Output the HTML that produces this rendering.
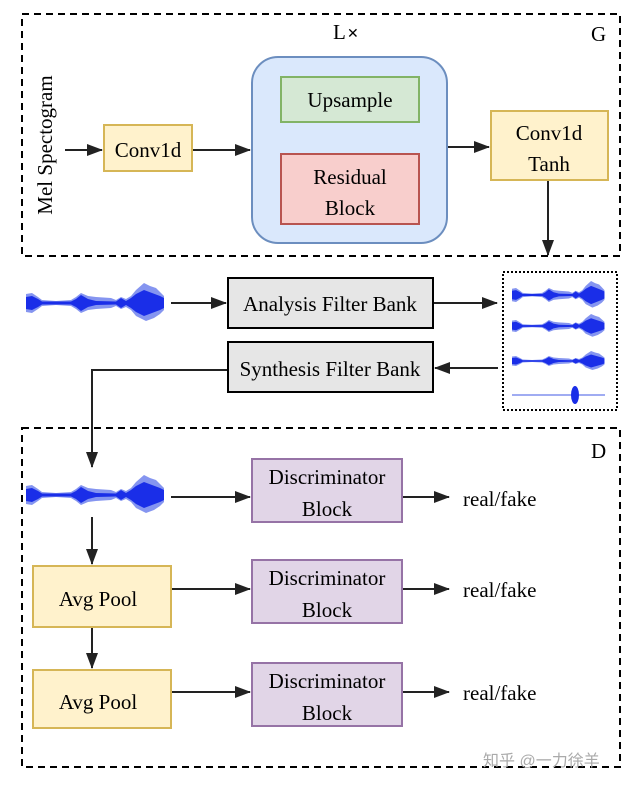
<!DOCTYPE html>
<html><head><meta charset="utf-8"><style>
html,body{margin:0;padding:0;background:#fff;}
text{font-family:"Liberation Serif",serif;fill:#000;}
</style></head><body>
<svg width="637" height="786" viewBox="0 0 637 786" xmlns="http://www.w3.org/2000/svg">
<defs>
<marker id="ar" markerWidth="16" markerHeight="12" refX="15" refY="6" orient="auto" markerUnits="userSpaceOnUse">
<path d="M0,0 L16,6 L0,12 Z" fill="#222"/></marker>
<g id="wave">
<path d="M0,-9 L6,-10 L12,-6 L16,-3 L30,-2 L45,-3 L50,-6 L55,-10 L62,-7 L70,-6 L85,-5 L90,-3 L95,-6 L100,-4 L105,-7 L110,-13 L118,-20 L124,-17 L130,-15 L134,-11 L138,-7 L138,7 L134,11 L128,15 L120,18 L110,13 L105,7 L100,4 L95,6 L90,3 L85,5 L70,6 L62,7 L55,10 L50,6 L45,3 L30,2 L16,3 L12,6 L6,10 L0,9 Z" fill="#8595f0"/>
<path d="M0,-6 L6,-7 L12,-4 L16,-1.5 L45,-1.5 L50,-4 L55,-8 L62,-4 L70,-2 L90,-1.5 L95,-5 L100,-2 L105,-5 L110,-9 L118,-13 L126,-10 L134,-7 L138,-5 L138,5 L134,7 L126,10 L118,13 L110,9 L105,5 L100,2 L95,5 L90,1.5 L70,2 L62,4 L55,8 L50,4 L45,1.5 L16,1.5 L12,4 L6,7 L0,6 Z" fill="#1a2ee8"/>
</g>
</defs>
<g stroke="#000" stroke-width="2" fill="none" stroke-dasharray="7,5">
<rect x="22" y="14" width="598" height="242"/>
<rect x="22" y="428" width="598" height="339"/>
</g>
<rect x="503" y="272" width="114" height="138" fill="none" stroke="#000" stroke-width="2" stroke-dasharray="2,2"/>
<text x="333" y="39" font-size="21">L</text><text x="347" y="38" font-size="14">✕</text>
<text x="591" y="41" font-size="21">G</text>
<text x="591" y="458" font-size="21">D</text>
<text transform="translate(52,145) rotate(-90)" font-size="21" text-anchor="middle">Mel Spectogram</text>
<g stroke="#222" stroke-width="2" marker-end="url(#ar)">
<line x1="65" y1="150" x2="102" y2="150"/>
<line x1="192" y1="150" x2="250" y2="150"/>
<line x1="350" y1="122" x2="350" y2="153"/>
<line x1="447" y1="147" x2="489" y2="147"/>
<line x1="548" y1="180" x2="548" y2="255"/>
<line x1="171" y1="303" x2="226" y2="303"/>
<line x1="433" y1="303" x2="497" y2="303"/>
<line x1="498" y1="368" x2="435" y2="368"/>
<polyline points="228,370 92,370 92,467" fill="none"/>
<line x1="171" y1="497" x2="250" y2="497"/>
<line x1="402" y1="497" x2="449" y2="497"/>
<line x1="92" y1="517" x2="92" y2="564"/>
<line x1="171" y1="589" x2="250" y2="589"/>
<line x1="402" y1="589" x2="449" y2="589"/>
<line x1="92" y1="627" x2="92" y2="668"/>
<line x1="171" y1="692" x2="250" y2="692"/>
<line x1="402" y1="692" x2="449" y2="692"/>
</g>
<rect x="104" y="125" width="88" height="46" fill="#fff2cc" stroke="#d6b656" stroke-width="2"/>
<text x="148" y="157" font-size="21" text-anchor="middle">Conv1d</text>
<rect x="252" y="57" width="195" height="186" rx="26" fill="#dae8fc" stroke="#6c8ebf" stroke-width="2"/>
<rect x="281" y="77" width="138" height="45" fill="#d5e8d4" stroke="#82b366" stroke-width="2"/>
<text x="350" y="107" font-size="21" text-anchor="middle">Upsample</text>
<rect x="281" y="154" width="138" height="70" fill="#f8cecc" stroke="#b85450" stroke-width="2"/>
<text x="350" y="184" font-size="21" text-anchor="middle">Residual</text>
<text x="350" y="215" font-size="21" text-anchor="middle">Block</text>
<rect x="491" y="111" width="117" height="69" fill="#fff2cc" stroke="#d6b656" stroke-width="2"/>
<text x="549" y="140" font-size="21" text-anchor="middle">Conv1d</text>
<text x="549" y="171" font-size="21" text-anchor="middle">Tanh</text>
<use href="#wave" x="26" y="303"/>
<rect x="228" y="278" width="205" height="50" fill="#e6e6e6" stroke="#000" stroke-width="2"/>
<text x="330" y="311" font-size="21" text-anchor="middle">Analysis Filter Bank</text>
<rect x="228" y="342" width="205" height="50" fill="#e6e6e6" stroke="#000" stroke-width="2"/>
<text x="330" y="376" font-size="21" text-anchor="middle">Synthesis Filter Bank</text>
<use href="#wave" transform="translate(512,295) scale(0.67,0.7)"/>
<use href="#wave" transform="translate(512,326) scale(0.67,0.6)"/>
<use href="#wave" transform="translate(512,361) scale(0.67,0.5)"/>
<line x1="512" y1="395" x2="605" y2="395" stroke="#8090ee" stroke-width="1.5"/>
<ellipse cx="575" cy="395" rx="4" ry="9" fill="#1a2ee8"/>
<use href="#wave" x="26" y="495"/>
<g fill="#e1d5e7" stroke="#9673a6" stroke-width="2">
<rect x="252" y="459" width="150" height="63"/>
<rect x="252" y="560" width="150" height="63"/>
<rect x="252" y="663" width="150" height="63"/>
</g>
<g font-size="21" text-anchor="middle">
<text x="327" y="484">Discriminator</text><text x="327" y="516">Block</text>
<text x="327" y="585">Discriminator</text><text x="327" y="617">Block</text>
<text x="327" y="688">Discriminator</text><text x="327" y="720">Block</text>
</g>
<g fill="#fff2cc" stroke="#d6b656" stroke-width="2">
<rect x="33" y="566" width="138" height="61"/>
<rect x="33" y="670" width="138" height="58"/>
</g>
<text x="98" y="606" font-size="21" text-anchor="middle">Avg Pool</text>
<text x="98" y="709" font-size="21" text-anchor="middle">Avg Pool</text>
<g font-size="21">
<text x="463" y="506">real/fake</text>
<text x="463" y="597">real/fake</text>
<text x="463" y="700">real/fake</text>
</g>
<text x="483" y="766" font-size="16" style="font-family:'Liberation Sans','Noto Sans CJK SC',sans-serif;fill:#aaa">知乎 @一力徐羊</text>
</svg>
</body></html>
